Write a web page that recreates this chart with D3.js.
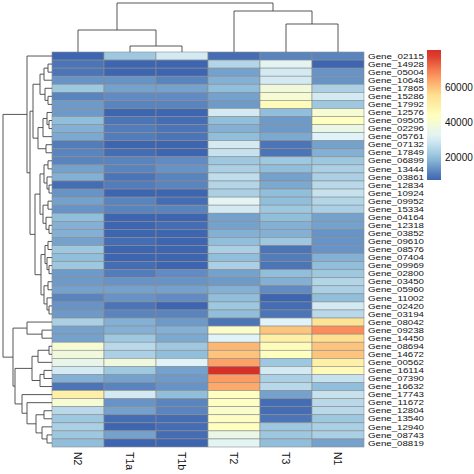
<!DOCTYPE html>
<html><head><meta charset="utf-8">
<script src="https://cdn.jsdelivr.net/npm/d3@7"></script>
<style>body{margin:0;background:#fff}</style></head><body>
<script>
const samples = ["N2","T1a","T1b","T2","T3","N1"];
const genes = ["02115","14928","05004","10648","17865","15286","17992","12576","09505","02296","05761","07132","17849","06899","13444","03861","12834","10924","09952","15334","04164","12318","03852","09610","08576","07404","09969","02800","03450","05960","11002","02420","03194","08042","09238","14450","08694","14672","00562","16114","07390","16632","17743","11672","12804","13540","12940","08743","08819"].map(g=>"Gene_"+g);
const values = [
[8000,22000,30000,9000,12000,12000],
[10000,7000,7000,25000,33000,7000],
[10000,7000,8000,16000,30000,14000],
[14000,14000,12000,18000,30000,14000],
[22000,16000,16000,20000,38000,24000],
[12000,13000,13000,16000,40000,30000],
[15000,12000,12000,15000,45000,22000],
[15000,7000,7000,30000,20000,40000],
[20000,10000,9000,20000,15000,44000],
[18000,11000,10000,18000,15000,36000],
[17000,11000,10000,20000,17000,32000],
[11000,7000,7000,30000,10000,16000],
[12000,9000,8000,28000,10000,18000],
[12000,12000,13000,22000,22000,22000],
[16000,12000,14000,24000,20000,24000],
[18000,10000,12000,27000,16000,24000],
[9000,11000,12000,25000,17000,26000],
[14000,7000,8000,24000,20000,28000],
[16000,12000,9000,33000,20000,25000],
[14000,12000,12000,30000,22000,24000],
[20000,8000,8000,16000,20000,16000],
[18000,8000,9000,16000,18000,16000],
[18000,8000,8000,18000,18000,14000],
[16000,9000,8000,20000,22000,14000],
[22000,8000,7000,24000,10000,14000],
[20000,8000,7000,20000,11000,18000],
[22000,9000,8000,24000,10000,20000],
[15000,11000,13000,16000,20000,22000],
[15000,14000,14000,15000,18000,25000],
[16000,16000,16000,18000,13000,24000],
[12000,14000,13000,20000,6000,20000],
[14000,10000,8000,22000,9000,30000],
[15000,12000,12000,20000,10000,26000],
[24000,18000,15000,10000,32000,55000],
[16000,18000,18000,42000,60000,68000],
[16000,22000,17000,32000,50000,56000],
[40000,26000,22000,62000,45000,60000],
[38000,24000,20000,60000,44000,60000],
[35000,38000,32000,65000,22000,50000],
[30000,22000,16000,80000,30000,46000],
[18000,16000,15000,66000,24000,28000],
[10000,12000,14000,64000,26000,20000],
[50000,30000,20000,44000,16000,28000],
[40000,14000,12000,43000,9000,26000],
[26000,16000,12000,42000,9000,26000],
[22000,9000,9000,43000,10000,22000],
[24000,8000,9000,44000,22000,24000],
[22000,16000,9000,36000,22000,24000],
[20000,7000,8000,33000,20000,16000]];
const legendTicks = [20000,40000,60000];
const colTree = [49,[22,0,[6,1,2]],[41,3,[28,4,5]]];
const rowTree = [49,
 [25,0,[22,
   [19,[12,[8,[4,1,2],3],[7,4,[4,5,6]]],[14,[9,[5,7,[3,8,9]],10],[6,11,12]]],
   [17,[12,[8,[4,13,14],[5,15,[3,16,17]]],[9,[4,18,19],[6,20,[3,21,22]]]],
       [11,[7,[4,23,24],[5,25,[3,26,27]]],[8,[4,28,29],[5,30,[3,31,32]]]]]]],
 [39,[25,33,[10,34,35]],
   [37,[20,[14,[3,36,37],38],[12,[8,39,40],41]],
       [30,42,[25,43,[16,[8,44,45],[10,46,[5,47,48]]]]]]]];

const W=474,H=474, x0=52,x1=364,y0=52,y1=447;
const svg=d3.select("body").append("svg").attr("width",W).attr("height",H);
const x=d3.scaleBand().domain(d3.range(samples.length)).range([x0,x1]);
const y=d3.scaleBand().domain(d3.range(genes.length)).range([y0,y1]);
const stops=["#3E66B0","#91BFDB","#E0F3F8","#FFFFBF","#FEE090","#FC8D59","#D73027"];
const vmin=8000,vmax=80000;
const color=d3.scaleLinear().domain(d3.range(7).map(i=>vmin+i*(vmax-vmin)/6)).range(stops).clamp(true);
const cells=[];values.forEach((r,i)=>r.forEach((v,j)=>cells.push({i,j,v})));
svg.append("g").selectAll("rect").data(cells).join("rect")
 .attr("x",d=>x(d.j)).attr("y",d=>y(d.i)).attr("width",x.bandwidth()).attr("height",y.bandwidth())
 .attr("fill",d=>color(d.v)).attr("stroke","#8c8c8c").attr("stroke-width",0.6);
svg.append("g").selectAll("text").data(genes).join("text")
 .attr("x",x1+4).attr("y",(d,i)=>y(i)+y.bandwidth()/2).attr("dy","0.35em")
 .attr("font-family","Liberation Sans, Arial").attr("font-size",7.6)
 .attr("textLength",56).attr("lengthAdjust","spacingAndGlyphs").attr("fill","#111").text(d=>d);
svg.append("g").selectAll("text").data(samples).join("text")
 .attr("transform",(d,i)=>`translate(${x(i)+x.bandwidth()/2},${y1+5}) rotate(90)`).attr("dy","0.35em")
 .attr("font-family","Liberation Sans, Arial").attr("font-size",10.5).attr("fill","#111").text(d=>d);
function draw(tree,pos,scaleH,horizontal){
  const g=svg.append("g").attr("fill","none").attr("stroke","#444").attr("stroke-width",0.9);
  function rec(n){
    if(typeof n==="number") return {p:pos(n),h:0};
    const a=rec(n[1]),b=rec(n[2]),h=n[0];
    if(horizontal) g.append("path").attr("d",`M${a.p},${scaleH(a.h)}V${scaleH(h)}H${b.p}V${scaleH(b.h)}`);
    else g.append("path").attr("d",`M${scaleH(a.h)},${a.p}H${scaleH(h)}V${b.p}H${scaleH(b.h)}`);
    return {p:(a.p+b.p)/2,h};
  }
  rec(tree);
}
draw(colTree,i=>x(i)+x.bandwidth()/2,d3.scaleLinear().domain([0,49]).range([y0,3]),true);
draw(rowTree,i=>y(i)+y.bandwidth()/2,d3.scaleLinear().domain([0,49]).range([x0,3]),false);
const lo=7400,hi=81700;
const lg=d3.scaleLinear().domain([lo,hi]).range([180,50]);
const grad=svg.append("defs").append("linearGradient").attr("id","lg").attr("x1",0).attr("x2",0).attr("y1",1).attr("y2",0);
d3.range(0,1.0001,0.05).forEach(t=>grad.append("stop").attr("offset",t).attr("stop-color",color(lo+t*(hi-lo))));
svg.append("rect").attr("x",427).attr("y",50).attr("width",14).attr("height",130).attr("fill","url(#lg)");
svg.append("g").selectAll("text").data(legendTicks).join("text")
 .attr("x",445).attr("y",d=>lg(d)).attr("dy","0.35em")
 .attr("font-family","Liberation Sans, Arial").attr("font-size",10).attr("fill","#111").text(d=>d);
</script></body></html>
